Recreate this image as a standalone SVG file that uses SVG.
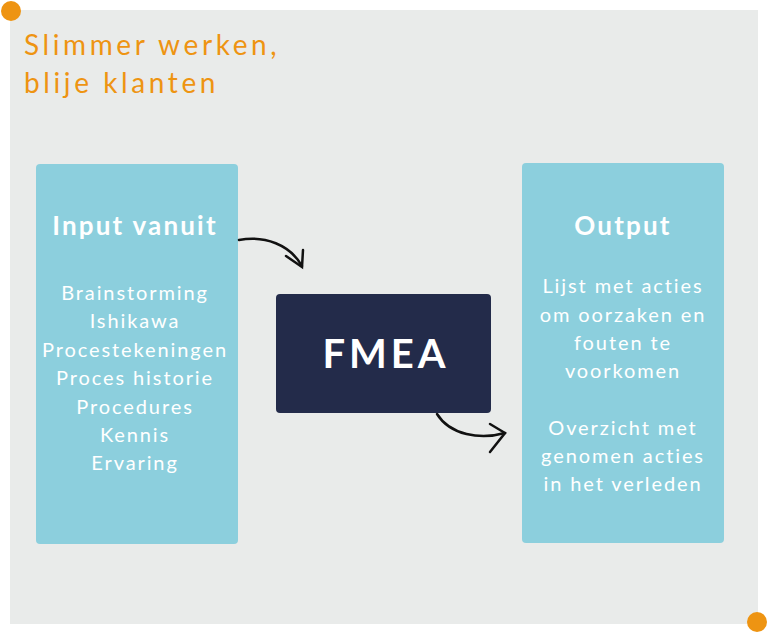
<svg xmlns="http://www.w3.org/2000/svg" width="768" height="635" viewBox="0 0 768 635">
<style>
.t{font-family:"Lato","Open Sans",sans-serif;fill:#fff;text-anchor:middle}
.b{font-size:20px;letter-spacing:1.9px}
.h{font-size:26px;font-weight:bold;letter-spacing:2.2px}
.o{fill:#ee9412;font-family:"Lato","Open Sans",sans-serif;font-size:28px;letter-spacing:3.6px}
.box{fill:#8ccfdd}
.c{fill:none;stroke:#111;stroke-width:2.5;stroke-linecap:round}
</style>
<rect x="0" y="0" width="768" height="635" fill="#fff"/>
<rect x="10" y="10" width="748" height="614" fill="#e9ebea"/>
<circle cx="11" cy="11" r="10" fill="#ee9412"/>
<circle cx="757" cy="622" r="10" fill="#ee9412"/>
<text class="o" x="24" y="55">Slimmer werken,</text>
<text class="o" x="24" y="93">blije klanten</text>
<g id="input">
<rect class="box" x="36" y="164" width="202" height="380" rx="4"/>
<text class="t h" x="135" y="235">Input vanuit</text>
<text class="t b" x="135" y="300">Brainstorming</text>
<text class="t b" x="135" y="328">Ishikawa</text>
<text class="t b" x="135" y="357">Procestekeningen</text>
<text class="t b" x="135" y="385">Proces historie</text>
<text class="t b" x="135" y="414">Procedures</text>
<text class="t b" x="135" y="442">Kennis</text>
<text class="t b" x="135" y="470">Ervaring</text>
</g>
<g id="output">
<rect class="box" x="522" y="163" width="202" height="380" rx="4"/>
<text class="t h" x="623" y="235">Output</text>
<text class="t b" x="623" y="293">Lijst met acties</text>
<text class="t b" x="623" y="322">om oorzaken en</text>
<text class="t b" x="623" y="350">fouten te</text>
<text class="t b" x="623" y="378">voorkomen</text>
<text class="t b" x="623" y="435">Overzicht met</text>
<text class="t b" x="623" y="463">genomen acties</text>
<text class="t b" x="623" y="491">in het verleden</text>
</g>
<g id="fmea">
<rect x="276" y="294" width="215" height="119" rx="4" fill="#232b4a"/>
<text class="t" x="386" y="368" style="font-size:40px;font-weight:bold;letter-spacing:4px">FMEA</text>
</g>
<g id="connectors">
<path class="c" d="M239,240 C265,235 290,245 302,266"/>
<path class="c" d="M286,256 L302,267 L303,250"/>
<path class="c" d="M437,414 C450,435 480,440 505,433"/>
<path class="c" d="M490,424 L505,433 L490,452"/>
</g>
</svg>
